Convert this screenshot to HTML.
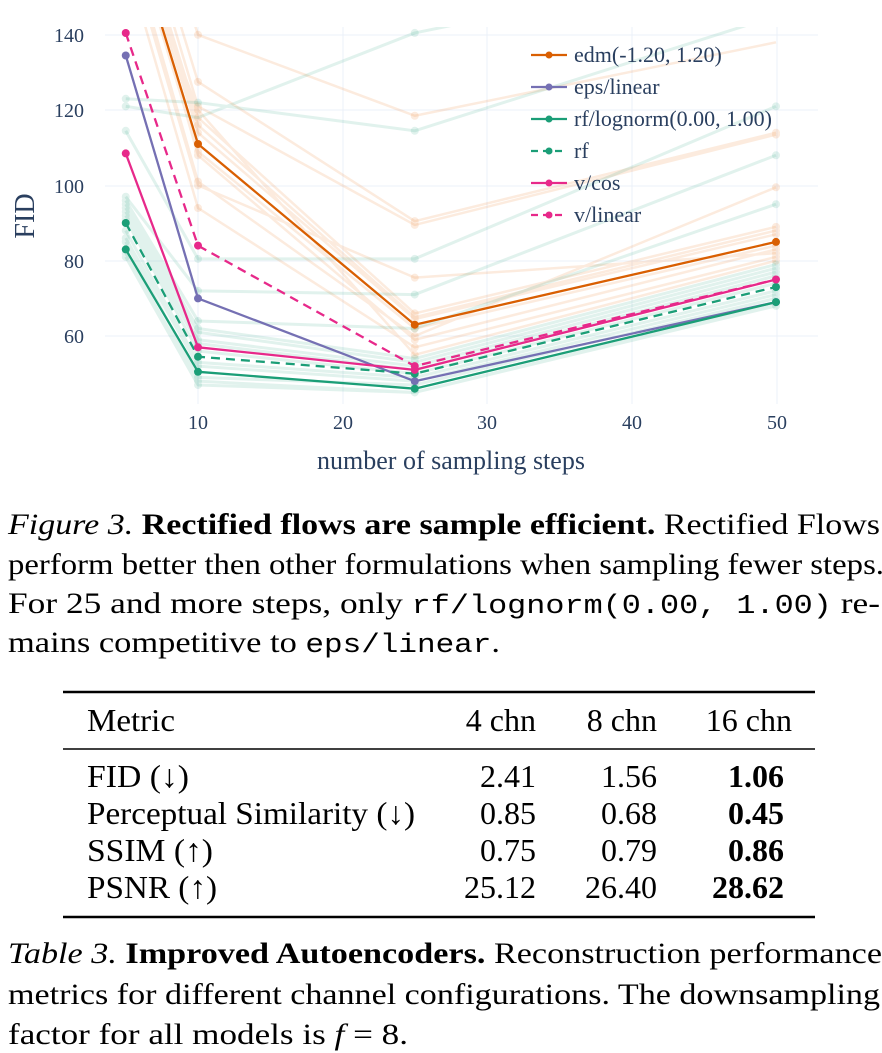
<!DOCTYPE html>
<html><head><meta charset="utf-8"><style>
html,body{margin:0;padding:0;background:#fff;}
svg{display:block;}
</style></head><body>
<svg width="882" height="1053" viewBox="0 0 882 1053" xmlns="http://www.w3.org/2000/svg">
<defs><clipPath id="pc"><rect x="105" y="27" width="713" height="378"/></clipPath></defs>
<g stroke="#ebf0f8" stroke-width="1">
<line x1="198" y1="27" x2="198" y2="404"/><line x1="343" y1="27" x2="343" y2="404"/><line x1="487" y1="27" x2="487" y2="404"/><line x1="632" y1="27" x2="632" y2="404"/><line x1="777" y1="27" x2="777" y2="404"/>
<line x1="105" y1="35" x2="818" y2="35"/><line x1="105" y1="110" x2="818" y2="110"/><line x1="105" y1="186" x2="818" y2="186"/><line x1="105" y1="261" x2="818" y2="261"/><line x1="105" y1="336" x2="818" y2="336"/>
</g>
<g clip-path="url(#pc)">
<g transform="matrix(14.45 0 0 -3.765 53.5 561.9)" fill="none" stroke-linejoin="round">
<g stroke="#f08a3c" stroke-opacity="0.17">
<path vector-effect="non-scaling-stroke" stroke-width="2.5" d="M5 200L10 140L25 118.5L50 138 M5 190L10 127.5L25 90.5L50 114 M5 185L10 121L25 89.5L50 113.5 M5 180L10 118L25 66L50 89 M5 178L10 116L25 65L50 88 M5 175L10 114L25 64.5L50 87 M5 172L10 109L25 62L50 84 M5 168L10 101L25 60L50 99.5 M5 165L10 100L25 75.5L50 82 M5 160L10 94L25 57L50 81 M5 170L10 120L25 55L50 80 M5 175L10 108L25 59L50 83"/>
<path vector-effect="non-scaling-stroke" stroke-width="8" stroke-linecap="round" d="M10 140l0 0M10 127.5l0 0M10 121l0 0M10 118l0 0M10 116l0 0M10 114l0 0M10 109l0 0M10 101l0 0M10 100l0 0M10 94l0 0M10 120l0 0M10 108l0 0M25 118.5l0 0M25 90.5l0 0M25 89.5l0 0M25 66l0 0M25 65l0 0M25 64.5l0 0M25 62l0 0M25 60l0 0M25 75.5l0 0M25 57l0 0M25 55l0 0M25 59l0 0M50 114l0 0M50 113.5l0 0M50 89l0 0M50 88l0 0M50 87l0 0M50 84l0 0M50 99.5l0 0M50 82l0 0M50 81l0 0M50 80l0 0M50 83l0 0"/>
</g>
<g stroke="#1b9e77" stroke-opacity="0.13">
<path vector-effect="non-scaling-stroke" stroke-width="3" d="M5 123L10 122L25 114.5L50 145 M5 121L10 118L25 140.5L50 160 M5 114.5L10 80.5L25 80.5L50 121 M5 97L10 72L25 71L50 108 M5 96L10 64L25 62L50 95 M5 95L10 62L25 54L50 79 M5 94L10 61L25 53L50 78 M5 93L10 59L25 52L50 77 M5 92L10 58L25 51L50 76 M5 91L10 56L25 50L50 74 M5 88L10 53L25 49L50 72 M5 86L10 52L25 48L50 71 M5 85L10 49L25 47L50 70 M5 82L10 48L25 45L50 68 M5 81L10 47L25 45L50 68.5"/>
<path vector-effect="non-scaling-stroke" stroke-width="8" stroke-linecap="round" d="M5 123l0 0M5 121l0 0M5 114.5l0 0M5 97l0 0M5 96l0 0M5 95l0 0M5 94l0 0M5 93l0 0M5 92l0 0M5 91l0 0M5 88l0 0M5 86l0 0M5 85l0 0M5 82l0 0M5 81l0 0M10 122l0 0M10 80.5l0 0M10 72l0 0M10 64l0 0M10 62l0 0M10 61l0 0M10 59l0 0M10 58l0 0M10 56l0 0M10 53l0 0M10 52l0 0M10 49l0 0M10 48l0 0M10 47l0 0M25 114.5l0 0M25 140.5l0 0M25 80.5l0 0M25 71l0 0M25 62l0 0M25 54l0 0M25 53l0 0M25 52l0 0M25 51l0 0M25 50l0 0M25 49l0 0M25 48l0 0M25 47l0 0M25 45l0 0M50 121l0 0M50 108l0 0M50 95l0 0M50 79l0 0M50 78l0 0M50 77l0 0M50 76l0 0M50 74l0 0M50 72l0 0M50 71l0 0M50 70l0 0M50 68l0 0"/>
</g>
</g>
<g fill="none" stroke-width="2.3" stroke-linejoin="round">
<polyline stroke="#d95f02" points="125.75,-91 198,144 414.75,324.7 776,241.9"/>
<polyline stroke="#7570b3" points="125.75,55.5 198,298.4 414.75,381.2 776,302.1"/>
<polyline stroke="#1b9e77" points="125.75,249.4 198,371.8 414.75,388.7 776,302.1"/>
<polyline stroke="#1b9e77" stroke-dasharray="9,6" points="125.75,223 198,356.7 414.75,373.7 776,287"/>
<polyline stroke="#e7298a" points="125.75,153.4 198,347.3 414.75,369.9 776,279.5"/>
<polyline stroke="#e7298a" stroke-dasharray="9,6" points="125.75,33 198,245.6 414.75,366.1 776,279.5"/>
</g>
<g>
<g fill="#d95f02"><circle cx="198" cy="144" r="4"/><circle cx="414.75" cy="324.7" r="4"/><circle cx="776" cy="241.9" r="4"/></g>
<g fill="#7570b3"><circle cx="125.75" cy="55.5" r="4"/><circle cx="198" cy="298.4" r="4"/><circle cx="414.75" cy="381.2" r="4"/><circle cx="776" cy="302.1" r="4"/></g>
<g fill="#1b9e77"><circle cx="125.75" cy="249.4" r="4"/><circle cx="198" cy="371.8" r="4"/><circle cx="414.75" cy="388.7" r="4"/><circle cx="776" cy="302.1" r="4"/>
<circle cx="125.75" cy="223" r="4"/><circle cx="198" cy="356.7" r="4"/><circle cx="414.75" cy="373.7" r="4"/><circle cx="776" cy="287" r="4"/></g>
<g fill="#e7298a"><circle cx="125.75" cy="153.4" r="4"/><circle cx="198" cy="347.3" r="4"/><circle cx="414.75" cy="369.9" r="4"/><circle cx="776" cy="279.5" r="4"/>
<circle cx="125.75" cy="33" r="4"/><circle cx="198" cy="245.6" r="4"/><circle cx="414.75" cy="366.1" r="4"/></g>
</g>
</g>
<g font-family="Liberation Serif, serif" font-size="20" fill="#2a3f5f" text-anchor="end">
<text x="84" y="42">140</text><text x="84" y="117">120</text><text x="84" y="193">100</text><text x="84" y="268">80</text><text x="84" y="343">60</text>
</g>
<g font-family="Liberation Serif, serif" font-size="20" fill="#2a3f5f" text-anchor="middle">
<text x="198" y="429">10</text><text x="343" y="429">20</text><text x="487" y="429">30</text><text x="632" y="429">40</text><text x="777" y="429">50</text>
</g>
<text x="451" y="469" text-anchor="middle" font-family="Liberation Serif, serif" font-size="26" fill="#2a3f5f">number of sampling steps</text>
<text transform="translate(34,216) rotate(-90)" text-anchor="middle" font-family="Liberation Serif, serif" font-size="28" fill="#2a3f5f">FID</text>
<g stroke-width="2.3">
<line x1="531" y1="55" x2="567" y2="55" stroke="#d95f02"/><circle cx="549" cy="55" r="3.5" fill="#d95f02"/>
<line x1="531" y1="87" x2="567" y2="87" stroke="#7570b3"/><circle cx="549" cy="87" r="3.5" fill="#7570b3"/>
<line x1="531" y1="119" x2="567" y2="119" stroke="#1b9e77"/><circle cx="549" cy="119" r="3.5" fill="#1b9e77"/>
<line x1="531" y1="151" x2="567" y2="151" stroke="#1b9e77" stroke-dasharray="7,5"/><circle cx="549" cy="151" r="3.5" fill="#1b9e77"/>
<line x1="531" y1="183" x2="567" y2="183" stroke="#e7298a"/><circle cx="549" cy="183" r="3.5" fill="#e7298a"/>
<line x1="531" y1="215" x2="567" y2="215" stroke="#e7298a" stroke-dasharray="7,5"/><circle cx="549" cy="215" r="3.5" fill="#e7298a"/>
</g>
<g font-family="Liberation Serif, serif" font-size="22" fill="#2a3f5f">
<text x="574" y="62">edm(-1.20, 1.20)</text><text x="574" y="94">eps/linear</text><text x="574" y="126">rf/lognorm(0.00, 1.00)</text><text x="574" y="158">rf</text><text x="574" y="190">v/cos</text><text x="574" y="222">v/linear</text>
</g>
<g font-family="Liberation Serif, serif" font-size="30" fill="#000">
<text x="8" y="534" textLength="872" lengthAdjust="spacingAndGlyphs"><tspan font-style="italic">Figure 3.</tspan>  <tspan font-weight="bold">Rectified flows are sample efficient.</tspan> Rectified Flows</text>
<text x="8" y="574" textLength="876" lengthAdjust="spacingAndGlyphs">perform better then other formulations when sampling fewer steps.</text>
<text x="8" y="613" textLength="872" lengthAdjust="spacingAndGlyphs">For 25 and more steps, only <tspan font-family="Liberation Mono, monospace" font-size="27">rf/lognorm(0.00, 1.00)</tspan> re-</text>
<text x="8" y="652" textLength="492" lengthAdjust="spacingAndGlyphs">mains competitive to <tspan font-family="Liberation Mono, monospace" font-size="27">eps/linear</tspan>.</text>
</g>
<g stroke="#000"><line x1="63" y1="692" x2="815" y2="692" stroke-width="2.5"/><line x1="63" y1="749" x2="815" y2="749" stroke-width="1.5"/><line x1="63" y1="917" x2="815" y2="917" stroke-width="2.5"/></g>
<g font-family="Liberation Serif, serif" font-size="32" fill="#000">
<text x="87" y="731" textLength="88" lengthAdjust="spacingAndGlyphs">Metric</text>
<text x="536" y="731" text-anchor="end">4 chn</text><text x="657" y="731" text-anchor="end">8 chn</text><text x="792" y="731" text-anchor="end">16 chn</text>
<text x="87" y="787" textLength="102" lengthAdjust="spacingAndGlyphs">FID (↓)</text><text x="536" y="787" text-anchor="end">2.41</text><text x="657" y="787" text-anchor="end">1.56</text><text x="784" y="787" text-anchor="end" font-weight="bold">1.06</text>
<text x="87" y="824" textLength="328" lengthAdjust="spacingAndGlyphs">Perceptual Similarity (↓)</text><text x="536" y="824" text-anchor="end">0.85</text><text x="657" y="824" text-anchor="end">0.68</text><text x="784" y="824" text-anchor="end" font-weight="bold">0.45</text>
<text x="87" y="861" textLength="126" lengthAdjust="spacingAndGlyphs">SSIM (↑)</text><text x="536" y="861" text-anchor="end">0.75</text><text x="657" y="861" text-anchor="end">0.79</text><text x="784" y="861" text-anchor="end" font-weight="bold">0.86</text>
<text x="87" y="898" textLength="130" lengthAdjust="spacingAndGlyphs">PSNR (↑)</text><text x="536" y="898" text-anchor="end">25.12</text><text x="657" y="898" text-anchor="end">26.40</text><text x="784" y="898" text-anchor="end" font-weight="bold">28.62</text>
</g>
<g font-family="Liberation Serif, serif" font-size="30" fill="#000">
<text x="8" y="963" textLength="874" lengthAdjust="spacingAndGlyphs"><tspan font-style="italic">Table 3.</tspan> <tspan font-weight="bold">Improved Autoencoders.</tspan> Reconstruction performance</text>
<text x="8" y="1004" textLength="872" lengthAdjust="spacingAndGlyphs">metrics for different channel configurations. The downsampling</text>
<text x="8" y="1044" textLength="400" lengthAdjust="spacingAndGlyphs">factor for all models is <tspan font-style="italic">f</tspan> = 8.</text>
</g>
</svg>
</body></html>
